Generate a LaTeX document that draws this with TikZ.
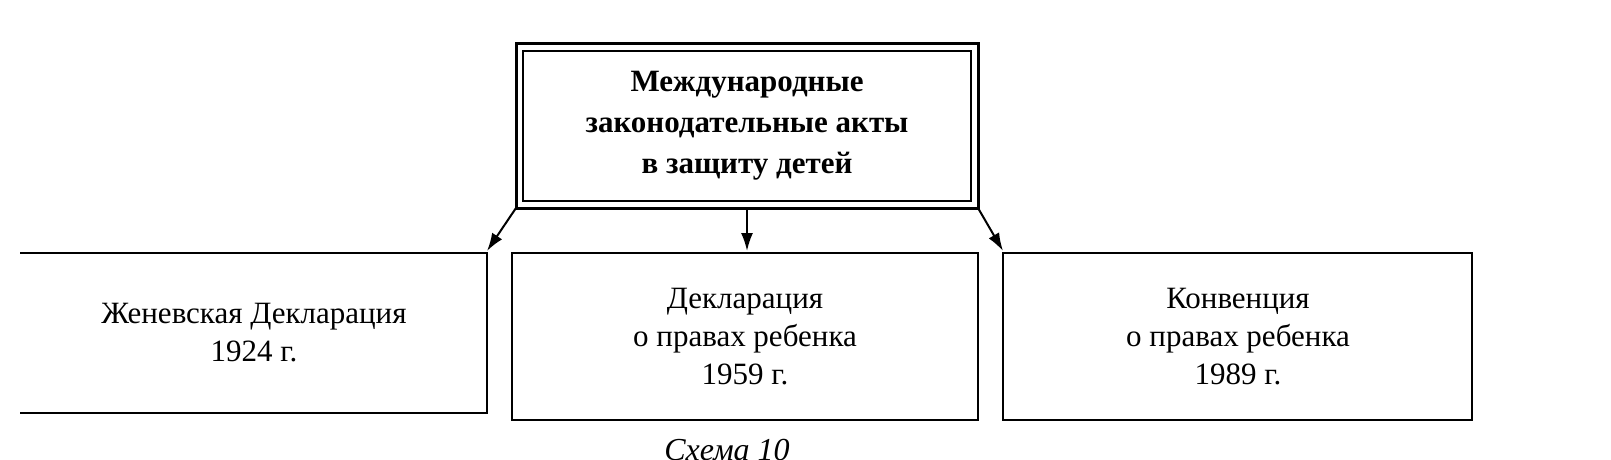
\documentclass[tikz,border=0pt]{standalone}
\usepackage{fontspec}
\setmainfont{Liberation Serif}
\usetikzlibrary{arrows.meta}
\begin{document}
\begin{tikzpicture}[x=1pt,y=-1pt,
  txt/.style={align=center,font=\fontsize{31}{38}\selectfont},
  arr/.style={-{Latex[length=18pt,width=12pt]},line width=2pt}]
\clip (0,0) rectangle (1611,460);
\fill[white] (0,0) rectangle (1611,460);
% top box
\draw[line width=3pt] (516,44) rectangle (978,208);
\draw[line width=1.4pt] (523,51) rectangle (971,201);
\node[txt,font=\bfseries\fontsize{31}{41}\selectfont] (top) at (747,126) {Международные\\законодательные акты\\в защиту детей};
\coordinate (tl) at (516,208);
\coordinate (tm) at (747,208);
\coordinate (tr) at (978,208);
% left box (open on the left)
\draw[line width=2.5pt] (20,253) -- (487,253) -- (487,413) -- (20,413);
\node[txt] (b1) at (254,333) {Женевская Декларация\\1924 г.};
\coordinate (b1t) at (487,251);
% middle box
\draw[line width=2.5pt] (512,253) rectangle (978,420);
\node[txt] (b2) at (745,337) {Декларация\\о правах ребенка\\1959 г.};
\coordinate (b2t) at (747,251);
% right box
\draw[line width=2.5pt] (1003,253) rectangle (1472,420);
\node[txt] (b3) at (1238,337) {Конвенция\\о правах ребенка\\1989 г.};
\coordinate (b3t) at (1003,251);
\draw[arr] (tl) -- (b1t);
\draw[arr] (tm) -- (b2t);
\draw[arr] (tr) -- (b3t);
\node[font=\itshape\fontsize{32}{38}\selectfont,anchor=north] (cap) at (727,436) {Схема 10};
\end{tikzpicture}
\end{document}
